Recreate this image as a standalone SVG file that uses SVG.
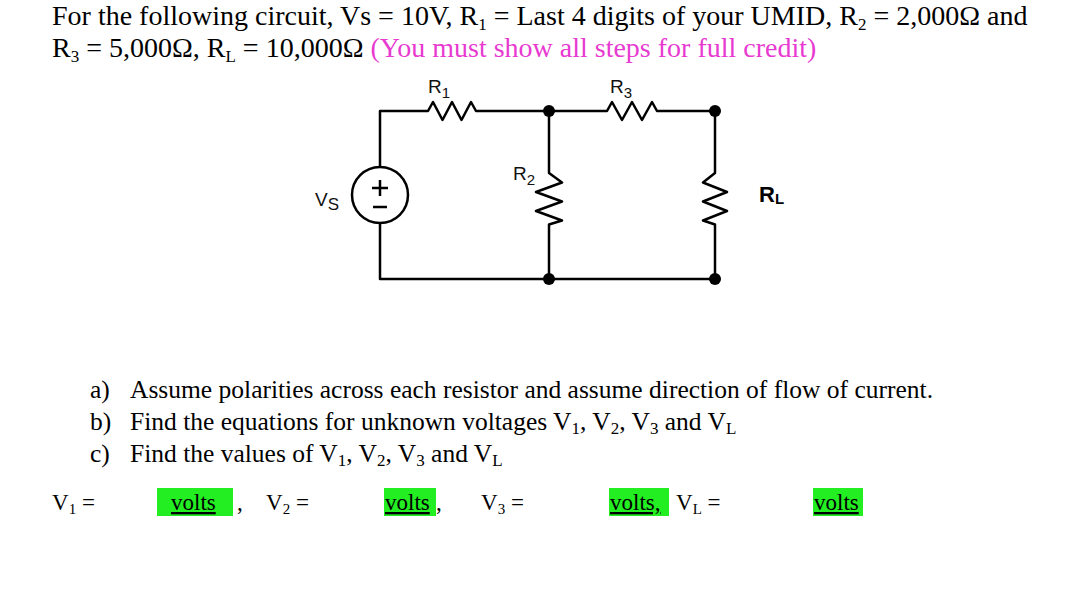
<svg xmlns="http://www.w3.org/2000/svg" width="1065" height="590" viewBox="0 0 1065 590">
<style>
.t{font-family:"Liberation Serif",serif;font-size:28px;fill:#000}
.m{font-family:"Liberation Serif",serif;font-size:25.5px;fill:#000}
.b{font-family:"Liberation Serif",serif;font-size:23px;fill:#000}
.s{font-family:"Liberation Sans",sans-serif;font-size:19px;fill:#111}
.w{fill:none;stroke:#000;stroke-width:2.5;stroke-linejoin:round}
.hl{fill:#22ee22}
</style>
<rect width="1065" height="590" fill="#fff"/>
<text class="t" x="52" y="25">For the following circuit, Vs = 10V, R<tspan font-size="17" dy="5">1</tspan><tspan dy="-5"> = Last 4 digits of your UMID, R</tspan><tspan font-size="17" dy="5">2</tspan><tspan dy="-5"> = 2,000Ω and</tspan></text>
<text class="t" x="52" y="57">R<tspan font-size="17" dy="5">3</tspan><tspan dy="-5"> = 5,000Ω, R</tspan><tspan font-size="17" dy="5">L</tspan><tspan dy="-5"> = 10,000Ω </tspan><tspan fill="#e83ad0">(You must show all steps for full credit)</tspan></text>
<g id="connectors">
<path class="w" d="M380,167 V111 H428 l5,-9 l9.5,18 l9.5,-18 l9.5,18 l9.5,-18 l5,9 H607 l5,-9 l10,18 l10,-18 l10,18 l10,-18 l5,9 H715 V173 l-12,9.5 l24,9.5 l-24,9.5 l24,9.5 l-24,9.5 l12,4 V279 H380 V223"/>
<path class="w" d="M549,111 V173 l13,9.5 l-26,9.5 l26,9.5 l-26,9.5 l26,9.5 l-13,4 V279"/>
</g>
<g id="vs"><circle cx="380" cy="195" r="28" fill="#fff" stroke="#000" stroke-width="2.5"/>
<path d="M372,188 h16 M380,180 v16 M373,207 h14" stroke="#000" stroke-width="2.5"/>
<text class="s" x="315" y="206">V<tspan font-size="17" dy="4">S</tspan></text></g>
<g id="nodes" fill="#000">
<circle cx="549" cy="111" r="6"/><circle cx="715" cy="111" r="6"/><circle cx="549" cy="279" r="6"/><circle cx="715" cy="279" r="6"/>
</g>
<g id="r1"><text class="s" x="428" y="93">R<tspan font-size="15" dy="5">1</tspan></text></g>
<g id="r3"><text class="s" x="610" y="93">R<tspan font-size="15" dy="5">3</tspan></text></g>
<g id="r2"><text class="s" x="513" y="180">R<tspan font-size="15" dy="5">2</tspan></text></g>
<g id="rl"><text x="759" y="202" font-family="Liberation Sans,sans-serif" font-weight="bold" font-size="22">R<tspan font-size="15" dy="2">L</tspan></text></g>
<text class="m" x="90" y="398">a)</text><text class="m" x="130" y="398">Assume polarities across each resistor and assume direction of flow of current.</text>
<text class="m" x="90" y="430">b)</text><text class="m" x="130" y="430">Find the equations for unknown voltages V<tspan font-size="17" dy="4">1</tspan><tspan dy="-4">, V</tspan><tspan font-size="17" dy="4">2</tspan><tspan dy="-4">, V</tspan><tspan font-size="17" dy="4">3</tspan><tspan dy="-4"> and V</tspan><tspan font-size="17" dy="4">L</tspan></text>
<text class="m" x="90" y="462">c)</text><text class="m" x="130" y="462">Find the values of V<tspan font-size="17" dy="4">1</tspan><tspan dy="-4">, V</tspan><tspan font-size="17" dy="4">2</tspan><tspan dy="-4">, V</tspan><tspan font-size="17" dy="4">3</tspan><tspan dy="-4"> and V</tspan><tspan font-size="17" dy="4">L</tspan></text>
<rect class="hl" x="157" y="488" width="76" height="28"/>
<rect class="hl" x="384" y="488" width="52" height="28"/>
<rect class="hl" x="609" y="488" width="60" height="28"/>
<rect class="hl" x="813" y="488" width="50" height="28"/>
<text class="b" x="52" y="510">V<tspan font-size="15" dy="4">1</tspan><tspan dy="-4"> =</tspan></text>
<text class="b" x="171" y="510" text-decoration="underline">volts </text><text class="b" x="237" y="510">,</text>
<text class="b" x="266" y="510">V<tspan font-size="15" dy="4">2</tspan><tspan dy="-4"> =</tspan></text>
<text class="b" x="385" y="510" text-decoration="underline">volts</text><text class="b" x="436" y="510">,</text>
<text class="b" x="481" y="510">V<tspan font-size="15" dy="4">3</tspan><tspan dy="-4"> =</tspan></text>
<text class="b" x="610" y="510" text-decoration="underline">volts, </text>
<text class="b" x="676" y="510">V<tspan font-size="15" dy="4">L</tspan><tspan dy="-4"> =</tspan></text>
<text class="b" x="814" y="510" text-decoration="underline">volts</text>
</svg>
